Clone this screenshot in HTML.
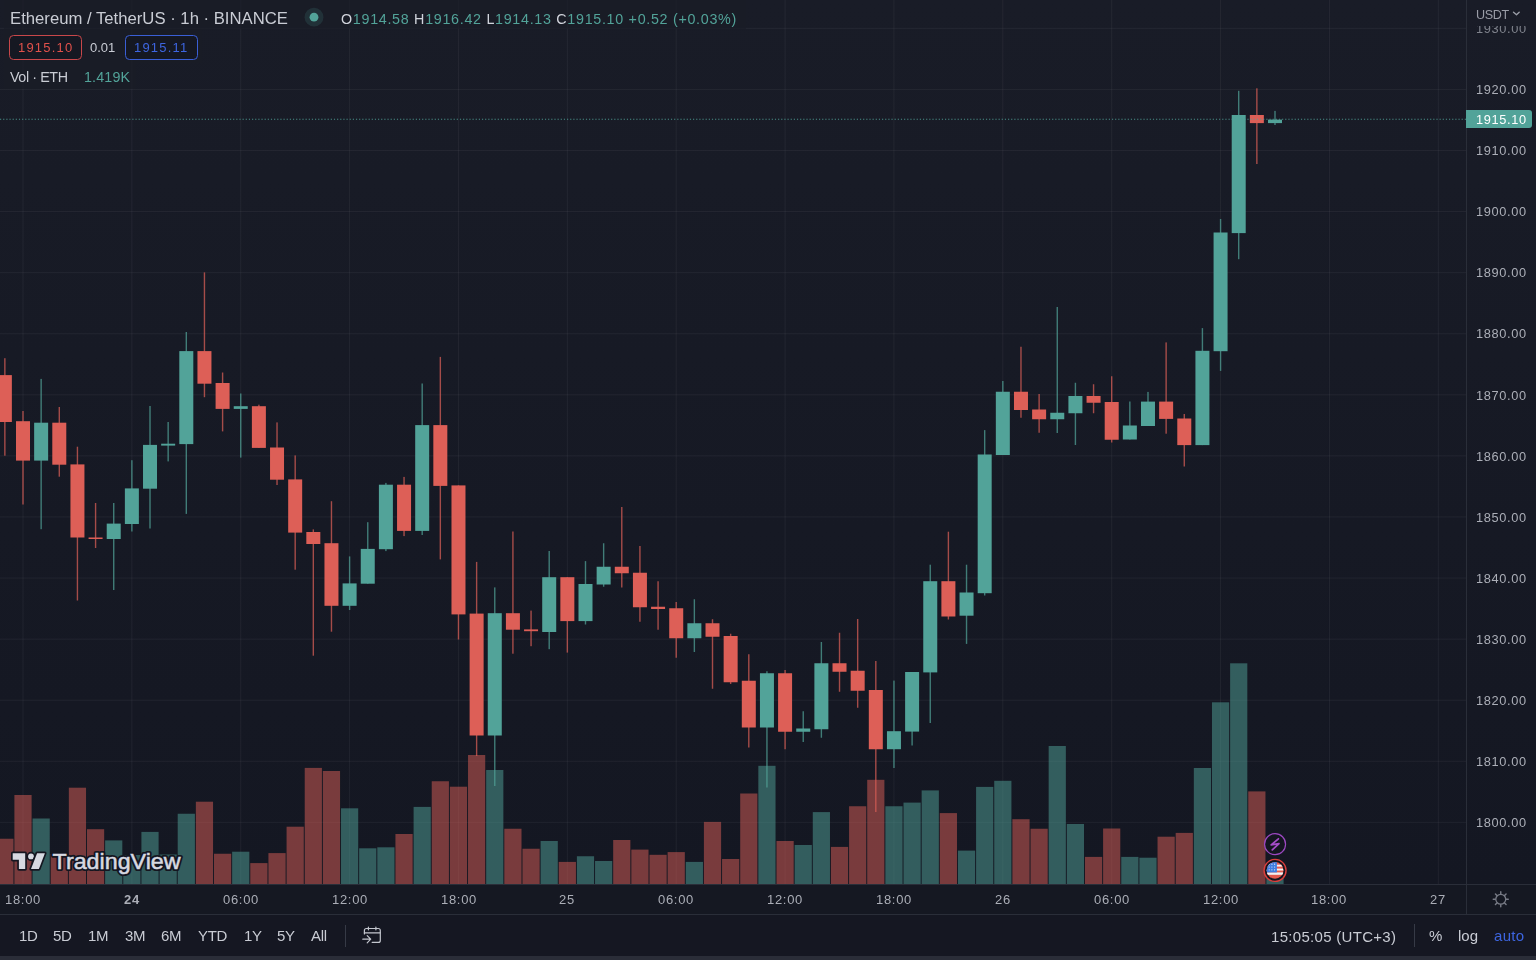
<!DOCTYPE html>
<html><head><meta charset="utf-8">
<style>
*{margin:0;padding:0;box-sizing:border-box}
html,body{width:1536px;height:960px;overflow:hidden;background:#151722;font-family:"Liberation Sans",sans-serif;color:#d1d4dc}
.a{position:absolute;white-space:nowrap;line-height:1;will-change:transform}
.w{color:#d1d4dc}
#chart{position:absolute;left:0;top:0;width:1536px;height:884px;background:linear-gradient(to bottom,#191c27,#141722)}
.pl{position:absolute;left:1475.5px;font-size:12.8px;line-height:1;letter-spacing:0.63px;color:#abaeb7;white-space:nowrap;will-change:transform}
.tl{position:absolute;top:892.8px;width:80px;text-align:center;font-size:13px;line-height:1;letter-spacing:0.7px;color:#abaeb7;white-space:nowrap;will-change:transform}
</style></head><body>
<div id="chart"></div>
<svg width="1466" height="884" style="position:absolute;left:0;top:0">
<rect x="22.50" y="0" width="1" height="884.0" fill="rgba(120,123,134,0.12)"/>
<rect x="131.37" y="0" width="1" height="884.0" fill="rgba(120,123,134,0.12)"/>
<rect x="240.24" y="0" width="1" height="884.0" fill="rgba(120,123,134,0.12)"/>
<rect x="349.11" y="0" width="1" height="884.0" fill="rgba(120,123,134,0.12)"/>
<rect x="457.98" y="0" width="1" height="884.0" fill="rgba(120,123,134,0.12)"/>
<rect x="566.85" y="0" width="1" height="884.0" fill="rgba(120,123,134,0.12)"/>
<rect x="675.72" y="0" width="1" height="884.0" fill="rgba(120,123,134,0.12)"/>
<rect x="784.59" y="0" width="1" height="884.0" fill="rgba(120,123,134,0.12)"/>
<rect x="893.46" y="0" width="1" height="884.0" fill="rgba(120,123,134,0.12)"/>
<rect x="1002.33" y="0" width="1" height="884.0" fill="rgba(120,123,134,0.12)"/>
<rect x="1111.20" y="0" width="1" height="884.0" fill="rgba(120,123,134,0.12)"/>
<rect x="1220.07" y="0" width="1" height="884.0" fill="rgba(120,123,134,0.12)"/>
<rect x="1328.94" y="0" width="1" height="884.0" fill="rgba(120,123,134,0.12)"/>
<rect x="1437.81" y="0" width="1" height="884.0" fill="rgba(120,123,134,0.12)"/>
<rect x="0" y="27.82" width="1466" height="1" fill="rgba(120,123,134,0.12)"/>
<rect x="0" y="88.90" width="1466" height="1" fill="rgba(120,123,134,0.12)"/>
<rect x="0" y="149.98" width="1466" height="1" fill="rgba(120,123,134,0.12)"/>
<rect x="0" y="211.06" width="1466" height="1" fill="rgba(120,123,134,0.12)"/>
<rect x="0" y="272.14" width="1466" height="1" fill="rgba(120,123,134,0.12)"/>
<rect x="0" y="333.22" width="1466" height="1" fill="rgba(120,123,134,0.12)"/>
<rect x="0" y="394.30" width="1466" height="1" fill="rgba(120,123,134,0.12)"/>
<rect x="0" y="455.38" width="1466" height="1" fill="rgba(120,123,134,0.12)"/>
<rect x="0" y="516.46" width="1466" height="1" fill="rgba(120,123,134,0.12)"/>
<rect x="0" y="577.54" width="1466" height="1" fill="rgba(120,123,134,0.12)"/>
<rect x="0" y="638.62" width="1466" height="1" fill="rgba(120,123,134,0.12)"/>
<rect x="0" y="699.70" width="1466" height="1" fill="rgba(120,123,134,0.12)"/>
<rect x="0" y="760.78" width="1466" height="1" fill="rgba(120,123,134,0.12)"/>
<rect x="0" y="821.86" width="1466" height="1" fill="rgba(120,123,134,0.12)"/>
<rect x="0.00" y="838.75" width="13.46" height="45.25" fill="rgba(221,95,87,0.5)"/>
<rect x="14.40" y="795.00" width="17.20" height="89.00" fill="rgba(221,95,87,0.5)"/>
<rect x="32.54" y="818.50" width="17.20" height="65.50" fill="rgba(82,163,153,0.5)"/>
<rect x="50.69" y="854.00" width="17.20" height="30.00" fill="rgba(221,95,87,0.5)"/>
<rect x="68.84" y="787.70" width="17.20" height="96.30" fill="rgba(221,95,87,0.5)"/>
<rect x="86.98" y="829.20" width="17.20" height="54.80" fill="rgba(221,95,87,0.5)"/>
<rect x="105.12" y="840.40" width="17.20" height="43.60" fill="rgba(82,163,153,0.5)"/>
<rect x="123.27" y="855.00" width="17.20" height="29.00" fill="rgba(82,163,153,0.5)"/>
<rect x="141.41" y="831.90" width="17.20" height="52.10" fill="rgba(82,163,153,0.5)"/>
<rect x="159.56" y="854.50" width="17.20" height="29.50" fill="rgba(82,163,153,0.5)"/>
<rect x="177.71" y="813.75" width="17.20" height="70.25" fill="rgba(82,163,153,0.5)"/>
<rect x="195.85" y="801.70" width="17.20" height="82.30" fill="rgba(221,95,87,0.5)"/>
<rect x="214.00" y="853.75" width="17.20" height="30.25" fill="rgba(221,95,87,0.5)"/>
<rect x="232.14" y="851.70" width="17.20" height="32.30" fill="rgba(82,163,153,0.5)"/>
<rect x="250.28" y="863.10" width="17.20" height="20.90" fill="rgba(221,95,87,0.5)"/>
<rect x="268.43" y="853.10" width="17.20" height="30.90" fill="rgba(221,95,87,0.5)"/>
<rect x="286.57" y="826.70" width="17.20" height="57.30" fill="rgba(221,95,87,0.5)"/>
<rect x="304.72" y="767.90" width="17.20" height="116.10" fill="rgba(221,95,87,0.5)"/>
<rect x="322.86" y="771.00" width="17.20" height="113.00" fill="rgba(221,95,87,0.5)"/>
<rect x="341.01" y="808.30" width="17.20" height="75.70" fill="rgba(82,163,153,0.5)"/>
<rect x="359.15" y="848.30" width="17.20" height="35.70" fill="rgba(82,163,153,0.5)"/>
<rect x="377.30" y="847.30" width="17.20" height="36.70" fill="rgba(82,163,153,0.5)"/>
<rect x="395.44" y="834.00" width="17.20" height="50.00" fill="rgba(221,95,87,0.5)"/>
<rect x="413.59" y="806.90" width="17.20" height="77.10" fill="rgba(82,163,153,0.5)"/>
<rect x="431.73" y="781.25" width="17.20" height="102.75" fill="rgba(221,95,87,0.5)"/>
<rect x="449.88" y="786.70" width="17.20" height="97.30" fill="rgba(221,95,87,0.5)"/>
<rect x="468.02" y="755.00" width="17.20" height="129.00" fill="rgba(221,95,87,0.5)"/>
<rect x="486.17" y="770.00" width="17.20" height="114.00" fill="rgba(82,163,153,0.5)"/>
<rect x="504.31" y="828.75" width="17.20" height="55.25" fill="rgba(221,95,87,0.5)"/>
<rect x="522.46" y="848.75" width="17.20" height="35.25" fill="rgba(221,95,87,0.5)"/>
<rect x="540.61" y="841.00" width="17.20" height="43.00" fill="rgba(82,163,153,0.5)"/>
<rect x="558.75" y="861.90" width="17.20" height="22.10" fill="rgba(221,95,87,0.5)"/>
<rect x="576.89" y="856.25" width="17.20" height="27.75" fill="rgba(82,163,153,0.5)"/>
<rect x="595.04" y="861.00" width="17.20" height="23.00" fill="rgba(82,163,153,0.5)"/>
<rect x="613.18" y="840.00" width="17.20" height="44.00" fill="rgba(221,95,87,0.5)"/>
<rect x="631.33" y="849.60" width="17.20" height="34.40" fill="rgba(221,95,87,0.5)"/>
<rect x="649.47" y="854.80" width="17.20" height="29.20" fill="rgba(221,95,87,0.5)"/>
<rect x="667.62" y="852.10" width="17.20" height="31.90" fill="rgba(221,95,87,0.5)"/>
<rect x="685.76" y="861.90" width="17.20" height="22.10" fill="rgba(82,163,153,0.5)"/>
<rect x="703.91" y="821.90" width="17.20" height="62.10" fill="rgba(221,95,87,0.5)"/>
<rect x="722.05" y="859.00" width="17.20" height="25.00" fill="rgba(221,95,87,0.5)"/>
<rect x="740.20" y="793.50" width="17.20" height="90.50" fill="rgba(221,95,87,0.5)"/>
<rect x="758.34" y="765.80" width="17.20" height="118.20" fill="rgba(82,163,153,0.5)"/>
<rect x="776.49" y="841.00" width="17.20" height="43.00" fill="rgba(221,95,87,0.5)"/>
<rect x="794.63" y="845.00" width="17.20" height="39.00" fill="rgba(82,163,153,0.5)"/>
<rect x="812.78" y="812.10" width="17.20" height="71.90" fill="rgba(82,163,153,0.5)"/>
<rect x="830.92" y="846.90" width="17.20" height="37.10" fill="rgba(221,95,87,0.5)"/>
<rect x="849.07" y="806.25" width="17.20" height="77.75" fill="rgba(221,95,87,0.5)"/>
<rect x="867.21" y="779.80" width="17.20" height="104.20" fill="rgba(221,95,87,0.5)"/>
<rect x="885.36" y="806.25" width="17.20" height="77.75" fill="rgba(82,163,153,0.5)"/>
<rect x="903.50" y="802.60" width="17.20" height="81.40" fill="rgba(82,163,153,0.5)"/>
<rect x="921.65" y="790.40" width="17.20" height="93.60" fill="rgba(82,163,153,0.5)"/>
<rect x="939.79" y="813.10" width="17.20" height="70.90" fill="rgba(221,95,87,0.5)"/>
<rect x="957.94" y="850.60" width="17.20" height="33.40" fill="rgba(82,163,153,0.5)"/>
<rect x="976.08" y="786.90" width="17.20" height="97.10" fill="rgba(82,163,153,0.5)"/>
<rect x="994.23" y="780.80" width="17.20" height="103.20" fill="rgba(82,163,153,0.5)"/>
<rect x="1012.38" y="819.20" width="17.20" height="64.80" fill="rgba(221,95,87,0.5)"/>
<rect x="1030.52" y="828.75" width="17.20" height="55.25" fill="rgba(221,95,87,0.5)"/>
<rect x="1048.66" y="746.00" width="17.20" height="138.00" fill="rgba(82,163,153,0.5)"/>
<rect x="1066.81" y="824.00" width="17.20" height="60.00" fill="rgba(82,163,153,0.5)"/>
<rect x="1084.96" y="856.90" width="17.20" height="27.10" fill="rgba(221,95,87,0.5)"/>
<rect x="1103.10" y="828.50" width="17.20" height="55.50" fill="rgba(221,95,87,0.5)"/>
<rect x="1121.25" y="856.90" width="17.20" height="27.10" fill="rgba(82,163,153,0.5)"/>
<rect x="1139.39" y="857.70" width="17.20" height="26.30" fill="rgba(82,163,153,0.5)"/>
<rect x="1157.54" y="836.70" width="17.20" height="47.30" fill="rgba(221,95,87,0.5)"/>
<rect x="1175.68" y="832.90" width="17.20" height="51.10" fill="rgba(221,95,87,0.5)"/>
<rect x="1193.83" y="768.00" width="17.20" height="116.00" fill="rgba(82,163,153,0.5)"/>
<rect x="1211.97" y="702.30" width="17.20" height="181.70" fill="rgba(82,163,153,0.5)"/>
<rect x="1230.12" y="663.30" width="17.20" height="220.70" fill="rgba(82,163,153,0.5)"/>
<rect x="1248.26" y="791.40" width="17.20" height="92.60" fill="rgba(221,95,87,0.5)"/>
<rect x="1266.40" y="876.00" width="17.20" height="8.00" fill="rgba(82,163,153,0.5)"/>
<rect x="4.16" y="358.20" width="1.4" height="97.50" fill="#dd5f57" fill-opacity="0.72"/>
<rect x="0.00" y="375.10" width="11.86" height="46.90" fill="#dd5f57"/>
<rect x="22.30" y="411.00" width="1.4" height="93.50" fill="#dd5f57" fill-opacity="0.72"/>
<rect x="16.00" y="421.20" width="14.00" height="39.40" fill="#dd5f57"/>
<rect x="40.44" y="378.90" width="1.4" height="150.30" fill="#52a399" fill-opacity="0.72"/>
<rect x="34.14" y="422.70" width="14.00" height="37.90" fill="#52a399"/>
<rect x="58.59" y="407.00" width="1.4" height="69.70" fill="#dd5f57" fill-opacity="0.72"/>
<rect x="52.29" y="422.70" width="14.00" height="42.00" fill="#dd5f57"/>
<rect x="76.73" y="446.70" width="1.4" height="153.80" fill="#dd5f57" fill-opacity="0.72"/>
<rect x="70.44" y="464.40" width="14.00" height="73.10" fill="#dd5f57"/>
<rect x="94.88" y="503.00" width="1.4" height="45.00" fill="#dd5f57" fill-opacity="0.72"/>
<rect x="88.58" y="537.50" width="14.00" height="1.50" fill="#dd5f57"/>
<rect x="113.02" y="503.00" width="1.4" height="87.00" fill="#52a399" fill-opacity="0.72"/>
<rect x="106.72" y="523.60" width="14.00" height="15.40" fill="#52a399"/>
<rect x="131.17" y="460.20" width="1.4" height="71.30" fill="#52a399" fill-opacity="0.72"/>
<rect x="124.87" y="488.40" width="14.00" height="35.60" fill="#52a399"/>
<rect x="149.31" y="406.00" width="1.4" height="122.50" fill="#52a399" fill-opacity="0.72"/>
<rect x="143.01" y="444.90" width="14.00" height="43.80" fill="#52a399"/>
<rect x="167.46" y="422.00" width="1.4" height="39.40" fill="#52a399" fill-opacity="0.72"/>
<rect x="161.16" y="443.70" width="14.00" height="1.90" fill="#52a399"/>
<rect x="185.61" y="332.00" width="1.4" height="181.90" fill="#52a399" fill-opacity="0.72"/>
<rect x="179.31" y="351.10" width="14.00" height="93.00" fill="#52a399"/>
<rect x="203.75" y="272.40" width="1.4" height="124.80" fill="#dd5f57" fill-opacity="0.72"/>
<rect x="197.45" y="351.10" width="14.00" height="32.60" fill="#dd5f57"/>
<rect x="221.90" y="372.50" width="1.4" height="58.90" fill="#dd5f57" fill-opacity="0.72"/>
<rect x="215.59" y="383.00" width="14.00" height="25.90" fill="#dd5f57"/>
<rect x="240.04" y="393.50" width="1.4" height="64.10" fill="#52a399" fill-opacity="0.72"/>
<rect x="233.74" y="406.20" width="14.00" height="2.70" fill="#52a399"/>
<rect x="258.19" y="404.70" width="1.4" height="43.20" fill="#dd5f57" fill-opacity="0.72"/>
<rect x="251.88" y="406.20" width="14.00" height="41.70" fill="#dd5f57"/>
<rect x="276.33" y="422.40" width="1.4" height="62.60" fill="#dd5f57" fill-opacity="0.72"/>
<rect x="270.03" y="447.50" width="14.00" height="32.20" fill="#dd5f57"/>
<rect x="294.48" y="455.40" width="1.4" height="114.30" fill="#dd5f57" fill-opacity="0.72"/>
<rect x="288.18" y="479.40" width="14.00" height="53.20" fill="#dd5f57"/>
<rect x="312.62" y="529.40" width="1.4" height="126.30" fill="#dd5f57" fill-opacity="0.72"/>
<rect x="306.32" y="532.00" width="14.00" height="12.00" fill="#dd5f57"/>
<rect x="330.76" y="501.20" width="1.4" height="130.50" fill="#dd5f57" fill-opacity="0.72"/>
<rect x="324.46" y="543.20" width="14.00" height="62.60" fill="#dd5f57"/>
<rect x="348.91" y="556.40" width="1.4" height="53.60" fill="#52a399" fill-opacity="0.72"/>
<rect x="342.61" y="583.40" width="14.00" height="22.40" fill="#52a399"/>
<rect x="367.06" y="522.20" width="1.4" height="61.50" fill="#52a399" fill-opacity="0.72"/>
<rect x="360.75" y="548.90" width="14.00" height="34.80" fill="#52a399"/>
<rect x="385.20" y="482.90" width="1.4" height="68.20" fill="#52a399" fill-opacity="0.72"/>
<rect x="378.90" y="484.70" width="14.00" height="64.50" fill="#52a399"/>
<rect x="403.35" y="476.90" width="1.4" height="59.20" fill="#dd5f57" fill-opacity="0.72"/>
<rect x="397.05" y="484.70" width="14.00" height="46.20" fill="#dd5f57"/>
<rect x="421.49" y="383.50" width="1.4" height="151.50" fill="#52a399" fill-opacity="0.72"/>
<rect x="415.19" y="425.10" width="14.00" height="105.80" fill="#52a399"/>
<rect x="439.63" y="356.90" width="1.4" height="202.50" fill="#dd5f57" fill-opacity="0.72"/>
<rect x="433.33" y="425.10" width="14.00" height="60.80" fill="#dd5f57"/>
<rect x="457.78" y="485.40" width="1.4" height="154.10" fill="#dd5f57" fill-opacity="0.72"/>
<rect x="451.48" y="485.40" width="14.00" height="129.00" fill="#dd5f57"/>
<rect x="475.93" y="561.90" width="1.4" height="194.10" fill="#dd5f57" fill-opacity="0.72"/>
<rect x="469.62" y="613.60" width="14.00" height="121.90" fill="#dd5f57"/>
<rect x="494.07" y="587.40" width="1.4" height="198.60" fill="#52a399" fill-opacity="0.72"/>
<rect x="487.77" y="613.20" width="14.00" height="122.30" fill="#52a399"/>
<rect x="512.21" y="531.50" width="1.4" height="122.20" fill="#dd5f57" fill-opacity="0.72"/>
<rect x="505.91" y="613.20" width="14.00" height="16.50" fill="#dd5f57"/>
<rect x="530.36" y="610.60" width="1.4" height="35.60" fill="#dd5f57" fill-opacity="0.72"/>
<rect x="524.06" y="629.40" width="14.00" height="1.80" fill="#dd5f57"/>
<rect x="548.50" y="551.00" width="1.4" height="98.20" fill="#52a399" fill-opacity="0.72"/>
<rect x="542.21" y="577.20" width="14.00" height="54.80" fill="#52a399"/>
<rect x="566.65" y="577.20" width="1.4" height="75.40" fill="#dd5f57" fill-opacity="0.72"/>
<rect x="560.35" y="577.20" width="14.00" height="43.90" fill="#dd5f57"/>
<rect x="584.79" y="561.10" width="1.4" height="63.40" fill="#52a399" fill-opacity="0.72"/>
<rect x="578.50" y="584.00" width="14.00" height="37.10" fill="#52a399"/>
<rect x="602.94" y="543.25" width="1.4" height="43.50" fill="#52a399" fill-opacity="0.72"/>
<rect x="596.64" y="566.75" width="14.00" height="17.75" fill="#52a399"/>
<rect x="621.08" y="507.00" width="1.4" height="80.50" fill="#dd5f57" fill-opacity="0.72"/>
<rect x="614.78" y="566.75" width="14.00" height="6.50" fill="#dd5f57"/>
<rect x="639.23" y="546.00" width="1.4" height="75.75" fill="#dd5f57" fill-opacity="0.72"/>
<rect x="632.93" y="572.75" width="14.00" height="34.50" fill="#dd5f57"/>
<rect x="657.37" y="581.25" width="1.4" height="48.50" fill="#dd5f57" fill-opacity="0.72"/>
<rect x="651.07" y="606.75" width="14.00" height="2.25" fill="#dd5f57"/>
<rect x="675.52" y="602.00" width="1.4" height="55.75" fill="#dd5f57" fill-opacity="0.72"/>
<rect x="669.22" y="608.25" width="14.00" height="30.00" fill="#dd5f57"/>
<rect x="693.66" y="599.25" width="1.4" height="52.75" fill="#52a399" fill-opacity="0.72"/>
<rect x="687.37" y="623.25" width="14.00" height="15.00" fill="#52a399"/>
<rect x="711.81" y="619.25" width="1.4" height="69.50" fill="#dd5f57" fill-opacity="0.72"/>
<rect x="705.51" y="623.25" width="14.00" height="13.50" fill="#dd5f57"/>
<rect x="729.95" y="633.75" width="1.4" height="50.25" fill="#dd5f57" fill-opacity="0.72"/>
<rect x="723.65" y="636.00" width="14.00" height="46.25" fill="#dd5f57"/>
<rect x="748.10" y="654.25" width="1.4" height="93.25" fill="#dd5f57" fill-opacity="0.72"/>
<rect x="741.80" y="680.75" width="14.00" height="46.75" fill="#dd5f57"/>
<rect x="766.24" y="671.25" width="1.4" height="116.25" fill="#52a399" fill-opacity="0.72"/>
<rect x="759.94" y="673.25" width="14.00" height="54.25" fill="#52a399"/>
<rect x="784.39" y="670.00" width="1.4" height="79.25" fill="#dd5f57" fill-opacity="0.72"/>
<rect x="778.09" y="673.25" width="14.00" height="58.50" fill="#dd5f57"/>
<rect x="802.53" y="711.25" width="1.4" height="30.75" fill="#52a399" fill-opacity="0.72"/>
<rect x="796.24" y="728.50" width="14.00" height="3.25" fill="#52a399"/>
<rect x="820.68" y="642.00" width="1.4" height="95.75" fill="#52a399" fill-opacity="0.72"/>
<rect x="814.38" y="663.25" width="14.00" height="66.00" fill="#52a399"/>
<rect x="838.82" y="632.75" width="1.4" height="59.00" fill="#dd5f57" fill-opacity="0.72"/>
<rect x="832.52" y="663.25" width="14.00" height="8.50" fill="#dd5f57"/>
<rect x="856.97" y="619.00" width="1.4" height="88.75" fill="#dd5f57" fill-opacity="0.72"/>
<rect x="850.67" y="670.75" width="14.00" height="20.00" fill="#dd5f57"/>
<rect x="875.11" y="661.00" width="1.4" height="151.00" fill="#dd5f57" fill-opacity="0.72"/>
<rect x="868.81" y="690.00" width="14.00" height="59.25" fill="#dd5f57"/>
<rect x="893.26" y="680.60" width="1.4" height="87.40" fill="#52a399" fill-opacity="0.72"/>
<rect x="886.96" y="731.20" width="14.00" height="18.00" fill="#52a399"/>
<rect x="911.40" y="672.00" width="1.4" height="73.50" fill="#52a399" fill-opacity="0.72"/>
<rect x="905.11" y="672.00" width="14.00" height="59.60" fill="#52a399"/>
<rect x="929.55" y="564.70" width="1.4" height="158.30" fill="#52a399" fill-opacity="0.72"/>
<rect x="923.25" y="581.20" width="14.00" height="91.20" fill="#52a399"/>
<rect x="947.69" y="531.70" width="1.4" height="87.80" fill="#dd5f57" fill-opacity="0.72"/>
<rect x="941.39" y="581.20" width="14.00" height="35.30" fill="#dd5f57"/>
<rect x="965.84" y="564.70" width="1.4" height="79.20" fill="#52a399" fill-opacity="0.72"/>
<rect x="959.54" y="592.50" width="14.00" height="23.20" fill="#52a399"/>
<rect x="983.98" y="430.10" width="1.4" height="165.40" fill="#52a399" fill-opacity="0.72"/>
<rect x="977.68" y="454.50" width="14.00" height="138.70" fill="#52a399"/>
<rect x="1002.13" y="381.00" width="1.4" height="74.00" fill="#52a399" fill-opacity="0.72"/>
<rect x="995.83" y="391.75" width="14.00" height="63.25" fill="#52a399"/>
<rect x="1020.27" y="346.75" width="1.4" height="71.00" fill="#dd5f57" fill-opacity="0.72"/>
<rect x="1013.98" y="391.75" width="14.00" height="18.25" fill="#dd5f57"/>
<rect x="1038.42" y="394.00" width="1.4" height="38.75" fill="#dd5f57" fill-opacity="0.72"/>
<rect x="1032.12" y="409.50" width="14.00" height="9.75" fill="#dd5f57"/>
<rect x="1056.56" y="307.00" width="1.4" height="126.00" fill="#52a399" fill-opacity="0.72"/>
<rect x="1050.26" y="412.75" width="14.00" height="6.50" fill="#52a399"/>
<rect x="1074.71" y="382.75" width="1.4" height="62.25" fill="#52a399" fill-opacity="0.72"/>
<rect x="1068.41" y="396.00" width="14.00" height="17.25" fill="#52a399"/>
<rect x="1092.86" y="384.25" width="1.4" height="29.00" fill="#dd5f57" fill-opacity="0.72"/>
<rect x="1086.56" y="396.00" width="14.00" height="6.75" fill="#dd5f57"/>
<rect x="1111.00" y="376.25" width="1.4" height="66.25" fill="#dd5f57" fill-opacity="0.72"/>
<rect x="1104.70" y="402.00" width="14.00" height="37.75" fill="#dd5f57"/>
<rect x="1129.14" y="401.50" width="1.4" height="38.00" fill="#52a399" fill-opacity="0.72"/>
<rect x="1122.85" y="425.50" width="14.00" height="14.00" fill="#52a399"/>
<rect x="1147.29" y="391.90" width="1.4" height="34.10" fill="#52a399" fill-opacity="0.72"/>
<rect x="1140.99" y="401.60" width="14.00" height="24.40" fill="#52a399"/>
<rect x="1165.43" y="342.40" width="1.4" height="91.30" fill="#dd5f57" fill-opacity="0.72"/>
<rect x="1159.13" y="401.60" width="14.00" height="17.30" fill="#dd5f57"/>
<rect x="1183.58" y="414.00" width="1.4" height="52.50" fill="#dd5f57" fill-opacity="0.72"/>
<rect x="1177.28" y="418.50" width="14.00" height="26.60" fill="#dd5f57"/>
<rect x="1201.72" y="328.10" width="1.4" height="117.00" fill="#52a399" fill-opacity="0.72"/>
<rect x="1195.42" y="350.80" width="14.00" height="94.30" fill="#52a399"/>
<rect x="1219.87" y="219.00" width="1.4" height="151.90" fill="#52a399" fill-opacity="0.72"/>
<rect x="1213.57" y="232.50" width="14.00" height="118.70" fill="#52a399"/>
<rect x="1238.01" y="90.80" width="1.4" height="168.40" fill="#52a399" fill-opacity="0.72"/>
<rect x="1231.71" y="115.00" width="14.00" height="118.10" fill="#52a399"/>
<rect x="1256.16" y="88.30" width="1.4" height="75.70" fill="#dd5f57" fill-opacity="0.72"/>
<rect x="1249.86" y="115.00" width="14.00" height="8.10" fill="#dd5f57"/>
<rect x="1274.30" y="110.90" width="1.4" height="14.10" fill="#52a399" fill-opacity="0.72"/>
<rect x="1268.00" y="119.60" width="14.00" height="3.50" fill="#52a399"/>
<line x1="0" y1="119.2" x2="1466" y2="119.2" stroke="#52a399" stroke-width="1.1" stroke-dasharray="1.2 1.95" stroke-opacity="0.85"/>
</svg>
<!-- axes borders -->
<div style="position:absolute;left:1466px;top:0;width:1px;height:915px;background:#2a2e39"></div>
<div style="position:absolute;left:0;top:884px;width:1536px;height:30px;background:#151822"></div>
<div style="position:absolute;left:0;top:884px;width:1536px;height:1px;background:#2a2e39"></div>
<div style="position:absolute;left:0;top:914px;width:1536px;height:1px;background:#2a2e39"></div>
<div style="position:absolute;left:1466px;top:884px;width:1px;height:31px;background:#2a2e39"></div>
<div style="position:absolute;left:0;top:915px;width:1536px;height:41px;background:#151722"></div>
<div style="position:absolute;left:0;top:956px;width:1536px;height:4px;background:#2a2d38"></div>
<!-- legend backdrop -->
<div style="position:absolute;left:4px;top:0;width:742px;height:29px;background:#191c27;opacity:0.7"></div>
<div style="position:absolute;left:4px;top:29px;width:198px;height:34px;background:#191c27;opacity:0.7"></div>
<div style="position:absolute;left:4px;top:63px;width:132px;height:25.6px;background:#191c27;opacity:0.7"></div>
<!-- legend boxes -->
<div style="position:absolute;left:9px;top:34.5px;width:73px;height:25px;border:1px solid #c8474a;border-radius:4.5px;background:#151822"></div>
<div style="position:absolute;left:125px;top:34.5px;width:73px;height:25px;border:1px solid #3a5fd6;border-radius:4.5px;background:#151822"></div>
<svg style="position:absolute;left:304px;top:7px" width="20" height="20"><circle cx="10" cy="10.2" r="9.4" fill="#52a399" fill-opacity="0.16"/><circle cx="10" cy="10.2" r="4.4" fill="#52a399"/></svg>
<!-- price axis -->
<div class="pl" style="top:23.0px;opacity:0.7;clip-path:inset(3.3px 0 0 0);">1930.00</div>
<div class="pl" style="top:84.1px;">1920.00</div>
<div class="pl" style="top:145.2px;">1910.00</div>
<div class="pl" style="top:206.3px;">1900.00</div>
<div class="pl" style="top:267.3px;">1890.00</div>
<div class="pl" style="top:328.4px;">1880.00</div>
<div class="pl" style="top:389.5px;">1870.00</div>
<div class="pl" style="top:450.6px;">1860.00</div>
<div class="pl" style="top:511.7px;">1850.00</div>
<div class="pl" style="top:572.7px;">1840.00</div>
<div class="pl" style="top:633.8px;">1830.00</div>
<div class="pl" style="top:694.9px;">1820.00</div>
<div class="pl" style="top:756.0px;">1810.00</div>
<div class="pl" style="top:817.1px;">1800.00</div>
<div style="position:absolute;left:1466px;top:110.2px;width:66px;height:18.3px;background:#52a399;border-radius:0 3px 3px 0"></div>
<div class="pl" style="top:114.0px;color:#fff">1915.10</div>
<svg style="position:absolute;left:1510px;top:9px" width="12" height="9"><path d="M3.5 3.3 L6.5 5.8 L9.2 3.3" fill="none" stroke="#9a9da7" stroke-width="1.4" stroke-linecap="round" stroke-linejoin="round"/></svg>
<!-- time axis -->
<div class="tl" style="left:-17.0px">18:00</div>
<div class="tl" style="left:91.9px"><b>24</b></div>
<div class="tl" style="left:200.7px">06:00</div>
<div class="tl" style="left:309.6px">12:00</div>
<div class="tl" style="left:418.5px">18:00</div>
<div class="tl" style="left:527.4px">25</div>
<div class="tl" style="left:636.2px">06:00</div>
<div class="tl" style="left:745.1px">12:00</div>
<div class="tl" style="left:854.0px">18:00</div>
<div class="tl" style="left:962.8px">26</div>
<div class="tl" style="left:1071.7px">06:00</div>
<div class="tl" style="left:1180.6px">12:00</div>
<div class="tl" style="left:1289.4px">18:00</div>
<div class="tl" style="left:1398.3px">27</div>
<svg style="position:absolute;left:1488px;top:887px" width="26" height="25" viewBox="1488 887 26 25"><circle cx="1500.76" cy="899.24" r="4.95" fill="none" stroke="#787b86" stroke-width="1.3"/><line x1="1506.16" y1="899.24" x2="1508.26" y2="899.24" stroke="#787b86" stroke-width="1.45" stroke-linecap="round"/><line x1="1504.58" y1="903.06" x2="1506.06" y2="904.54" stroke="#787b86" stroke-width="1.45" stroke-linecap="round"/><line x1="1500.76" y1="904.64" x2="1500.76" y2="906.74" stroke="#787b86" stroke-width="1.45" stroke-linecap="round"/><line x1="1496.94" y1="903.06" x2="1495.46" y2="904.54" stroke="#787b86" stroke-width="1.45" stroke-linecap="round"/><line x1="1495.36" y1="899.24" x2="1493.26" y2="899.24" stroke="#787b86" stroke-width="1.45" stroke-linecap="round"/><line x1="1496.94" y1="895.42" x2="1495.46" y2="893.94" stroke="#787b86" stroke-width="1.45" stroke-linecap="round"/><line x1="1500.76" y1="893.84" x2="1500.76" y2="891.74" stroke="#787b86" stroke-width="1.45" stroke-linecap="round"/><line x1="1504.58" y1="895.42" x2="1506.06" y2="893.94" stroke="#787b86" stroke-width="1.45" stroke-linecap="round"/></svg>
<!-- toolbar -->
<div style="position:absolute;left:345px;top:924.5px;width:1px;height:22px;background:#363a46"></div>
<div style="position:absolute;left:1414px;top:924px;width:1px;height:22.5px;background:#363a46"></div>
<svg style="position:absolute;left:358px;top:922px" width="28" height="26" viewBox="358 922 28 26" fill="none" stroke="#c3c6ce" stroke-width="1.2" stroke-linecap="round" stroke-linejoin="round">
<path d="M364.4 933.9 V930.5 Q364.4 928.5 366.4 928.5 H378.3 Q380.3 928.5 380.3 930.5 V940.4 Q380.3 942.4 378.3 942.4 H372.2"/>
<path d="M364.4 932.8 H380.3"/>
<path d="M368.4 927.2 V929.8 M375.9 927.2 V929.8"/>
<path d="M362.8 939.2 H370.6 M367.2 935.6 L370.7 939.2 L367.2 942.8"/>
</svg>
<div class="a" id="t-title" style="left:10px;top:10.5px;font-size:16.7px;letter-spacing:0px;color:#c9ccd4;">Ethereum / TetherUS · 1h · BINANCE</div>
<div class="a" id="t-ohlc" style="left:341px;top:12.3px;font-size:14.3px;letter-spacing:0.7px;color:#52a399;"><span class="w">O</span>1914.58 <span class="w">H</span>1916.42 <span class="w">L</span>1914.13 <span class="w">C</span>1915.10 +0.52 (+0.03%)</div>
<div class="a" id="t-redtxt" style="left:18px;top:41px;font-size:13px;letter-spacing:1.2px;color:#e0514b;">1915.10</div>
<div class="a" id="t-0.01" style="left:90px;top:41px;font-size:13px;letter-spacing:0px;color:#c9ccd4;">0.01</div>
<div class="a" id="t-bluetxt" style="left:134px;top:41px;font-size:13px;letter-spacing:1.2px;color:#3d65e0;">1915.11</div>
<div class="a" id="t-vol" style="left:10px;top:69.5px;font-size:14.3px;letter-spacing:-0.4px;color:#c9ccd4;">Vol · ETH</div>
<div class="a" id="t-1.419K" style="left:84px;top:69.5px;font-size:14.3px;letter-spacing:0.15px;color:#52a399;">1.419K</div>
<div class="a" id="t-usdt" style="left:1476px;top:9px;font-size:12.6px;letter-spacing:-0.4px;color:#9a9da7;">USDT</div>
<div class="a" id="t-1D" style="left:19px;top:927.8px;font-size:15px;letter-spacing:-0.3px;color:#c9ccd4;">1D</div>
<div class="a" id="t-5D" style="left:53px;top:927.8px;font-size:15px;letter-spacing:-0.3px;color:#c9ccd4;">5D</div>
<div class="a" id="t-1M" style="left:88px;top:927.8px;font-size:15px;letter-spacing:-0.3px;color:#c9ccd4;">1M</div>
<div class="a" id="t-3M" style="left:125px;top:927.8px;font-size:15px;letter-spacing:-0.3px;color:#c9ccd4;">3M</div>
<div class="a" id="t-6M" style="left:161px;top:927.8px;font-size:15px;letter-spacing:-0.3px;color:#c9ccd4;">6M</div>
<div class="a" id="t-YTD" style="left:198px;top:927.8px;font-size:15px;letter-spacing:-0.3px;color:#c9ccd4;">YTD</div>
<div class="a" id="t-1Y" style="left:244px;top:927.8px;font-size:15px;letter-spacing:-0.3px;color:#c9ccd4;">1Y</div>
<div class="a" id="t-5Y" style="left:277px;top:927.8px;font-size:15px;letter-spacing:-0.3px;color:#c9ccd4;">5Y</div>
<div class="a" id="t-All" style="left:311px;top:927.8px;font-size:15px;letter-spacing:-0.3px;color:#c9ccd4;">All</div>
<div class="a" id="t-utc" style="left:1271px;top:928.5px;font-size:15px;letter-spacing:0.3px;color:#c9ccd4;">15:05:05 (UTC+3)</div>
<div class="a" id="t-pct" style="left:1429px;top:927.8px;font-size:15px;letter-spacing:0px;color:#c9ccd4;">%</div>
<div class="a" id="t-log" style="left:1458px;top:927.8px;font-size:15px;letter-spacing:0px;color:#c9ccd4;">log</div>
<div class="a" id="t-auto" style="left:1494px;top:927.8px;font-size:15px;letter-spacing:0.3px;color:#3d65e0;">auto</div>
<!-- TradingView logo -->
<svg style="position:absolute;left:0;top:840px" width="200" height="44" viewBox="0 840 200 44">
<g fill="#d7d9e1" stroke="#141620" stroke-width="3.4" stroke-linejoin="round" paint-order="stroke">
<path d="M12.7 853.2 H25.2 V869 H18.9 V859.7 H12.7 Z"/>
<circle cx="31" cy="856.4" r="2.9"/>
<path d="M37.1 853.2 H44.9 L38.9 869 H31 Z"/>
</g>
<text x="52.6" y="868.8" font-size="21.8" font-family="Liberation Sans" textLength="128" lengthAdjust="spacingAndGlyphs" fill="#141620" stroke="#141620" stroke-width="4.2" stroke-linejoin="round">TradingView</text>
<text x="52.6" y="868.8" font-size="21.8" font-family="Liberation Sans" textLength="128" lengthAdjust="spacingAndGlyphs" fill="#d7d9e1" stroke="#d7d9e1" stroke-width="0.5">TradingView</text>
</svg>
<!-- event icons -->
<svg style="position:absolute;left:1260px;top:830px" width="30" height="54" viewBox="1260 830 30 54">
<circle cx="1275.06" cy="844.2" r="10.5" fill="#141620" stroke="#9b48c0" stroke-width="1.2"/>
<path d="M1278.4 838.8 L1271.2 844.9 L1279 843.7 L1272.3 849.8" fill="none" stroke="#a54cc8" stroke-width="1.75" stroke-linejoin="round" stroke-linecap="round"/>
<circle cx="1275.06" cy="870.4" r="11" fill="#141620" stroke="#dc3f3d" stroke-width="1.4"/>
<clipPath id="fc"><circle cx="1275.06" cy="870.4" r="8.4"/></clipPath>
<g clip-path="url(#fc)">
<rect x="1266" y="861" width="19" height="19" fill="#e45a4e"/>
<rect x="1266" y="864.7" width="19" height="1.9" fill="#f2f2f4"/>
<rect x="1266" y="868.6" width="19" height="1.9" fill="#f2f2f4"/>
<rect x="1266" y="872.4" width="19" height="2.4" fill="#f2f2f4"/>
<rect x="1266" y="861" width="10.9" height="11.4" fill="#3f7ee0"/>
<g fill="#e8eefa"><circle cx="1269.2" cy="864.2" r="0.6"/><circle cx="1271.9" cy="864.2" r="0.6"/><circle cx="1274.6" cy="864.2" r="0.6"/><circle cx="1269.2" cy="867" r="0.6"/><circle cx="1271.9" cy="867" r="0.6"/><circle cx="1274.6" cy="867" r="0.6"/><circle cx="1269.2" cy="869.8" r="0.6"/><circle cx="1271.9" cy="869.8" r="0.6"/><circle cx="1274.6" cy="869.8" r="0.6"/></g>
</g>
</svg>
</body></html>
